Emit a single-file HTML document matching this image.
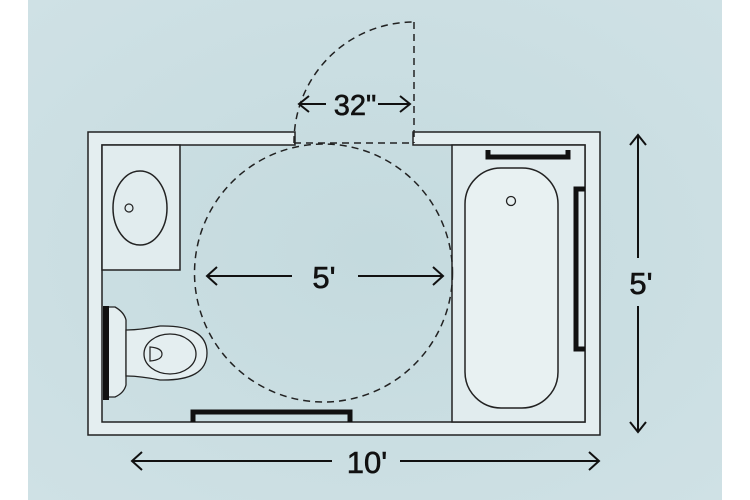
<!DOCTYPE html>
<html><head><style>
html,body{margin:0;padding:0;background:#fff;}
svg{display:block;}
text{font-family:"Liberation Sans",sans-serif;fill:#111;}
</style></head><body>
<svg width="750" height="500" viewBox="0 0 750 500" xmlns="http://www.w3.org/2000/svg">
<defs>
<radialGradient id="bg" cx="0.5" cy="0.5" r="0.7">
<stop offset="0" stop-color="#c4dade"/>
<stop offset="1" stop-color="#cfe1e5"/>
</radialGradient>
</defs>
<rect x="28" y="0" width="694" height="500" fill="url(#bg)"/>
<g stroke="#222" stroke-width="1.5" fill="#e4eef0">
<path d="M88 132 H295 V145 H102 V422 H585 V145 H413 V132 H600 V435 H88 Z"/>
</g>
<rect x="452" y="145" width="133" height="277" fill="#e1ecee" stroke="#222" stroke-width="1.5"/>
<rect x="465" y="168" width="93" height="240" rx="36" fill="#e8f1f2" stroke="#222" stroke-width="1.5"/>
<circle cx="511" cy="201" r="4.5" fill="none" stroke="#222" stroke-width="1.3"/>
<path d="M488 150 V157 H568 V150" fill="none" stroke="#111" stroke-width="5"/>
<path d="M585 189 H576 V349 H585" fill="none" stroke="#111" stroke-width="5"/>
<rect x="102" y="145" width="78" height="125" fill="#e1ecee" stroke="#222" stroke-width="1.5"/>
<ellipse cx="140" cy="208" rx="27" ry="37" fill="none" stroke="#222" stroke-width="1.5"/>
<circle cx="129" cy="208" r="4" fill="none" stroke="#222" stroke-width="1.2"/>
<path d="M108 307 H115 Q124 312 126 320 V385 Q124 393 115 397 H108 Z" fill="#e4eef0" stroke="#222" stroke-width="1.3"/>
<path d="M126 330 Q140 330 160 326 Q207 325 207 353 Q207 381 160 380 Q140 376 126 376 Z" fill="#e4eef0" stroke="#222" stroke-width="1.3"/>
<ellipse cx="170" cy="354" rx="26" ry="20" fill="none" stroke="#222" stroke-width="1.3"/>
<path d="M150 347 Q162 348 162 354 Q162 360 150 361 Z" fill="none" stroke="#222" stroke-width="1.2"/>
<rect x="103" y="306" width="6" height="94" fill="#111"/>
<path d="M193 422 V412 H350 V422" fill="none" stroke="#111" stroke-width="5"/>
<circle cx="323.5" cy="273" r="129" fill="none" stroke="#222" stroke-width="1.5" stroke-dasharray="7 5"/>
<g fill="none" stroke="#222" stroke-width="1.5" stroke-dasharray="7 5">
<path d="M294 143 A120 120 0 0 1 414 22"/>
<path d="M414 22 V143"/>
<path d="M294 143 H414"/>
</g>
<g fill="none" stroke="#111" stroke-width="2">
<path d="M299 104 H326 M309 96 L299 104 L309 112"/>
<path d="M378 104 H410 M400 96 L410 104 L400 112"/>
<path d="M207 276 H292 M217 267 L207 276 L217 285"/>
<path d="M358 276 H443 M433 267 L443 276 L433 285"/>
<path d="M132 461 H332 M142 452 L132 461 L142 470"/>
<path d="M400 461 H599 M589 452 L599 461 L589 470"/>
<path d="M638 135 V258 M630 145 L638 135 L646 145"/>
<path d="M638 306 V432 M630 422 L638 432 L646 422"/>
</g>
<g stroke="#111" stroke-width="0.6">
<text x="355" y="115" font-size="29" text-anchor="middle">32"</text>
<text x="324" y="288" font-size="31" text-anchor="middle">5'</text>
<text x="367" y="473" font-size="31" text-anchor="middle">10'</text>
<text x="641" y="294" font-size="31" text-anchor="middle">5'</text>
</g>
</svg>
</body></html>
